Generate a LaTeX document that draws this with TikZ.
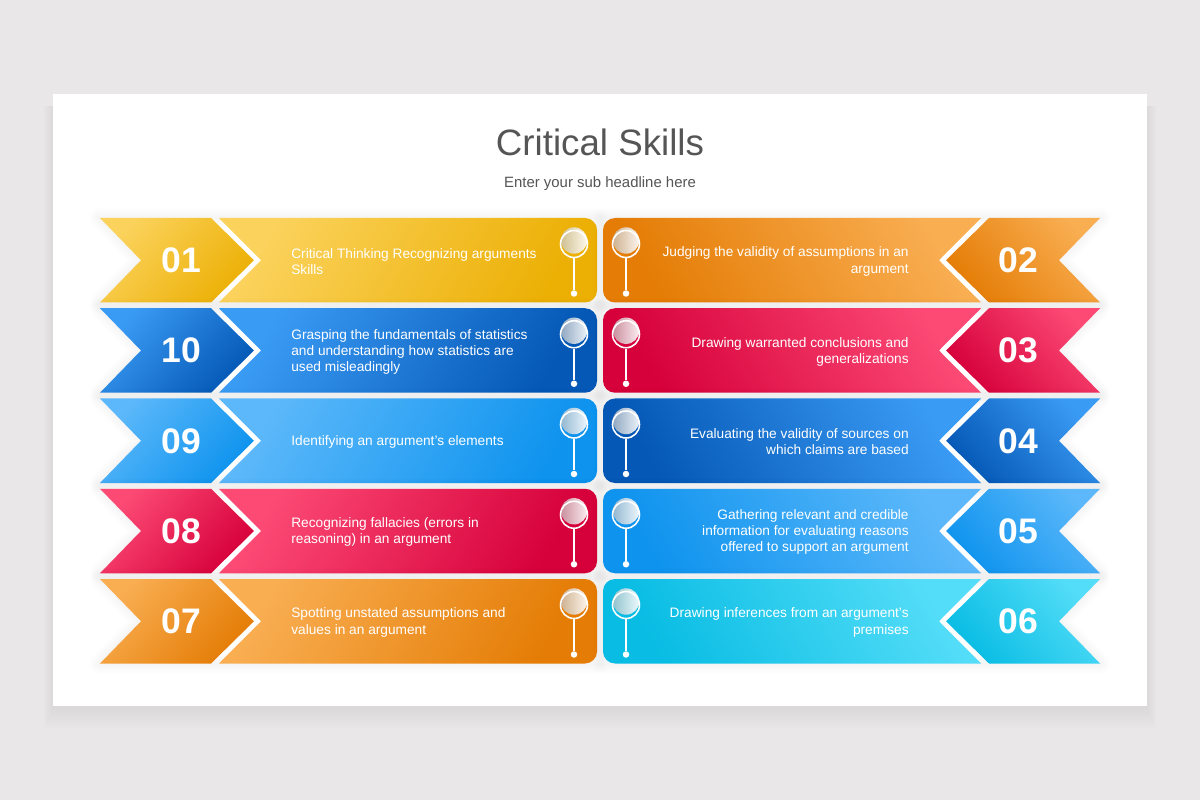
\documentclass[tikz,border=0pt]{standalone}
\usepackage{fontspec}
\setmainfont{Liberation Sans}
\usepackage{xcolor}
\usetikzlibrary{positioning}

\definecolor{pageGrey}{HTML}{E9E7E8}
\definecolor{headGrey}{HTML}{555555}
\definecolor{yellowL}{HTML}{FBD25C}
\definecolor{yellowD}{HTML}{ECB005}
\definecolor{orangeL}{HTML}{F9AE52}
\definecolor{orangeD}{HTML}{E47C05}
\definecolor{redL}{HTML}{FC4A75}
\definecolor{redD}{HTML}{D6003A}
\definecolor{navyL}{HTML}{3A9BF5}
\definecolor{navyD}{HTML}{0558B5}
\definecolor{skyL}{HTML}{5CB8FA}
\definecolor{skyD}{HTML}{0E93EE}
\definecolor{cyanL}{HTML}{54DDF8}
\definecolor{cyanD}{HTML}{08BCE3}

\tikzset{
  headline/.style={text=headGrey, font=\fontsize{20.9pt}{24pt}\selectfont},
  subline/.style={text=headGrey, font=\fontsize{8.5pt}{11pt}\selectfont},
  numlabel/.style={text=white, font=\fontsize{20.2pt}{24pt}\selectfont\bfseries},
  bodyleft/.style={text=white, anchor=west, align=left, inner sep=0pt, font=\fontsize{7.8pt}{9.2pt}\selectfont},
  bodyright/.style={text=white, anchor=east, align=right, inner sep=0pt, font=\fontsize{7.8pt}{9.2pt}\selectfont},
  lens/.style={circle, draw=white, line width=0.9pt, minimum size=0.54cm, inner sep=0pt},
  pindot/.style={circle, fill=white, minimum size=0.13cm, inner sep=0pt},
  stem/.style={draw=white, line width=0.9pt},
  softedge/.style={draw=black, opacity=0.004, line join=round},
  lefthand/.style={shift={(0,0)}},
  righthand/.style={shift={(1200,0)}, xscale=-1}
}

% row: hand, shading angle, top, number, light, dark, text style, text
\newcommand{\critrow}[8]{
  \begin{scope}[#1, yshift=-#3*0.02cm]
    % Soft edge
    \foreach \wid in {2,4,...,20}
      \draw[softedge, line width=\wid*0.6pt] (100,0) -- (597,0) -- (597,84.5) -- (100,84.5) -- (141,42.25) -- cycle;
    % Ribbon end
    \shade[left color=#5, right color=#6, shading angle=#2*0.8]
      (100,0) -- (211,0) -- (254,42.25) -- (211,84.5) -- (100,84.5) -- (141,42.25) -- cycle;
    % Text band
    \shade[left color=#5, right color=#6, shading angle=#2]
      (219,0) [rounded corners=0.24cm] -- (597,0) -- (597,84.5) [sharp corners] -- (219,84.5) -- (261,42.25) -- cycle;
    % Magnifier
    \shade[left color=#6!45!gray!60!white, right color=white!92!#6] (574,22.5) circle (13.2);
    \node[lens] (lens#4) at (574,26) {};
    \node[pindot] (dot#4) at (574,75.5) {};
    \draw[stem] (lens#4) -- (dot#4);
    % Labels
    \node[numlabel] (num#4) at (181.5,42.5) {#4};
    \node[#7] (txt#4) at (291,43.5) {#8};
  \end{scope}
}

\begin{document}
\begin{tikzpicture}[x=0.02cm, y=-0.02cm]
  \useasboundingbox (0,0) rectangle (1200,800);
  \fill[pageGrey] (0,0) rectangle (1200,800);
  % Card shadow
  \foreach \spread in {1,2,...,14}
    \fill[black, opacity=0.005] (53-\spread*0.7,106) rectangle (1147+\spread*0.7,708+\spread*1.5);
  \fill[white] (53,94) rectangle (1147,706);
  % Title
  \node[headline] (title) at (600,142) {Critical Skills};
  \node[subline] (subtitle) at (600,183.5) {Enter your sub headline here};
  % Left rows
  \critrow{lefthand}{60}{218}{01}{yellowL}{yellowD}{bodyleft}{Critical Thinking Recognizing arguments\\Skills}
  \critrow{lefthand}{60}{308.25}{10}{navyL}{navyD}{bodyleft}{Grasping the fundamentals of statistics\\and understanding how statistics are\\used misleadingly}
  \critrow{lefthand}{60}{398.5}{09}{skyL}{skyD}{bodyleft}{Identifying an argument's elements}
  \critrow{lefthand}{60}{488.75}{08}{redL}{redD}{bodyleft}{Recognizing fallacies (errors in\\reasoning) in an argument}
  \critrow{lefthand}{60}{579}{07}{orangeL}{orangeD}{bodyleft}{Spotting unstated assumptions and\\values in an argument}
  % Right rows
  \critrow{righthand}{-60}{218}{02}{orangeL}{orangeD}{bodyright}{Judging the validity of assumptions in an\\argument}
  \critrow{righthand}{-60}{308.25}{03}{redL}{redD}{bodyright}{Drawing warranted conclusions and\\generalizations}
  \critrow{righthand}{-60}{398.5}{04}{navyL}{navyD}{bodyright}{Evaluating the validity of sources on\\which claims are based}
  \critrow{righthand}{-60}{488.75}{05}{skyL}{skyD}{bodyright}{Gathering relevant and credible\\information for evaluating reasons\\offered to support an argument}
  \critrow{righthand}{-60}{579}{06}{cyanL}{cyanD}{bodyright}{Drawing inferences from an argument's\\premises}
\end{tikzpicture}
\end{document}
